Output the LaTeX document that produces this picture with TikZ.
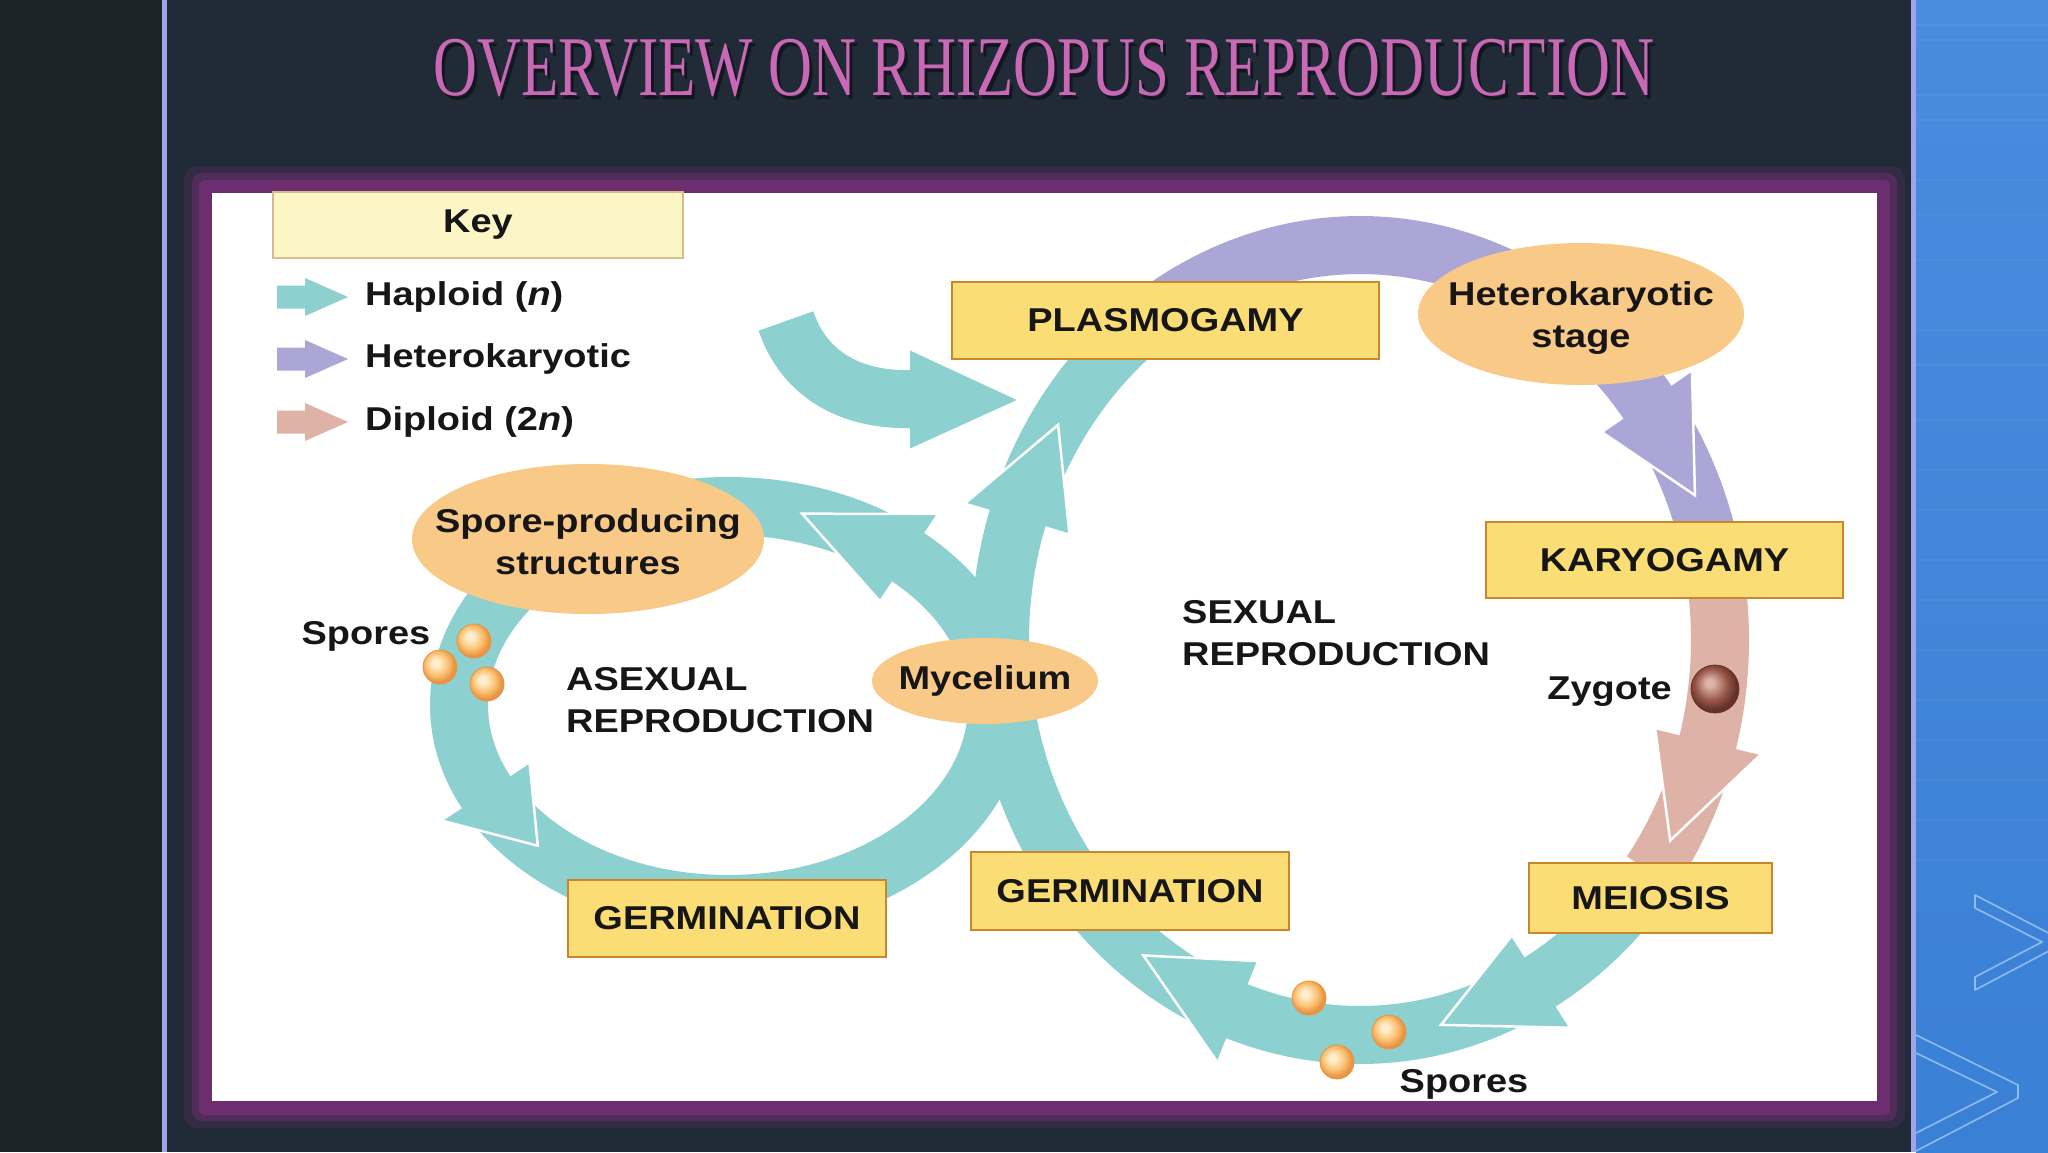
\documentclass[tikz,border=0pt]{standalone}
\usepackage{fontspec}
\setmainfont{Liberation Sans}
\newfontfamily\dfont[FakeStretch=1.15]{Liberation Sans}
\newfontfamily\tfont{Liberation Serif}
\usetikzlibrary{calc}
\definecolor{bgleft}{RGB}{27,36,38}
\definecolor{bgnavy}{RGB}{33,43,56}
\definecolor{lav}{RGB}{160,165,232}
\definecolor{bgbluetop}{RGB}{72,140,222}
\definecolor{bgbluebot}{RGB}{58,128,212}
\definecolor{chev}{RGB}{170,208,245}
\definecolor{titlepink}{RGB}{201,104,180}
\definecolor{glow}{RGB}{108,46,110}
\definecolor{hap}{RGB}{140,208,207}
\definecolor{het}{RGB}{171,166,214}
\definecolor{dip}{RGB}{222,178,166}
\definecolor{boxfill}{RGB}{251,221,118}
\definecolor{boxline}{RGB}{200,135,45}
\definecolor{ovalfill}{RGB}{249,201,135}
\definecolor{keyfill}{RGB}{252,246,198}
\definecolor{keyline}{RGB}{214,188,140}
\definecolor{sporehi}{RGB}{255,238,205}
\definecolor{sporemid}{RGB}{250,192,112}
\definecolor{sporerim}{RGB}{232,148,66}
\definecolor{zyghi}{RGB}{222,180,168}
\definecolor{zygcol}{RGB}{148,84,70}
\definecolor{zygrim}{RGB}{100,50,42}
\definecolor{txt}{RGB}{22,22,22}

\pgfdeclareradialshading{sporeball}{\pgfpoint{-7bp}{7bp}}{color(0bp)=(sporehi); color(5bp)=(sporehi); color(17bp)=(sporemid); color(25bp)=(sporerim); color(50bp)=(sporerim)}
\pgfdeclareradialshading{zygball}{\pgfpoint{-6bp}{7bp}}{color(0bp)=(zyghi); color(4bp)=(zyghi); color(17bp)=(zygcol); color(25bp)=(zygrim); color(50bp)=(zygrim)}

% thick elliptical band: cx cy rx ry th1 th2 colour
\newcommand\bandarc[7]{%
  \draw[#7, line width=58pt] plot[domain=#5:#6, samples=90, smooth] ({#1+#3*cos(\x)},{#2-#4*sin(\x)});%
}
% arrow head on an ellipse: cx cy rx ry thbase thtip halfwidth colour
\newcommand\bandhead[8]{%
  \pgfmathsetmacro\hBx{#1+#3*cos(#5)}%
  \pgfmathsetmacro\hBy{#2-#4*sin(#5)}%
  \pgfmathsetmacro\hNx{cos(#5)*#4/100}%
  \pgfmathsetmacro\hNy{-sin(#5)*#3/100}%
  \pgfmathsetmacro\hNn{sqrt(\hNx*\hNx+\hNy*\hNy)}%
  \pgfmathsetmacro\hUx{#7*\hNx/\hNn}%
  \pgfmathsetmacro\hUy{#7*\hNy/\hNn}%
  \pgfmathsetmacro\hTx{#1+#3*cos(#6)}%
  \pgfmathsetmacro\hTy{#2-#4*sin(#6)}%
  \fill[#8] ({\hBx+(\hUx)},{\hBy+(\hUy)}) -- (\hTx,\hTy) -- ({\hBx-(\hUx)},{\hBy-(\hUy)}) -- cycle;
  \draw[whiteedge] ({\hBx+(\hUx)},{\hBy+(\hUy)}) -- (\hTx,\hTy) -- ({\hBx-(\hUx)},{\hBy-(\hUy)});
}
\newcommand\legarrow[2]{%
  \fill[#2] (277,#1-11.5) -- (305,#1-11.5) -- (305,#1-19) -- (348,#1) -- (305,#1+19) -- (305,#1+11.5) -- (277,#1+11.5) -- cycle;}

\tikzset{
  lbl/.style={font=\dfont\bfseries\fontsize{33}{42}\selectfont, text=txt, align=center, inner sep=0pt},
  stagebox/.style={lbl, draw=boxline, fill=boxfill, line width=2.5pt, rectangle},
  whiteedge/.style={white, line width=2.5pt, line join=miter},
  titlefont/.style={font=\tfont\fontsize{85}{90}\selectfont, anchor=base, inner sep=0pt},
  chevline/.style={chev, line width=1.6pt, opacity=0.75, line join=round},
  spore/.style={shading=sporeball, draw=sporerim, line width=0.8pt},
}

\begin{document}
\begin{tikzpicture}[x=1pt, y=-1pt]
\useasboundingbox (0,0) rectangle (2048,1152);
% ---------- slide background ----------
\fill[bgleft] (0,0) rectangle (163,1152);
\fill[lav] (162,0) rectangle (167,1152);
\fill[bgnavy] (167,0) rectangle (1911,1152);
\shade[top color=bgbluetop, bottom color=bgbluebot] (1916,0) rectangle (2048,1152);
\fill[lav] (1911,0) rectangle (1916,1152);
\begin{scope}
  \clip (1916,0) rectangle (2048,1152);
  \foreach \yy in {25,40,95,120,180,215,260,330,365,420,470,510,560,600,650,700,740,780,820,860}
    \draw[white, opacity=0.05, line width=1.2pt] (1916,\yy) -- (2048,\yy);
  \draw[chevline] (1975,895) -- (2066,942) -- (1975,990) -- (1975,977) -- (2042,942) -- (1975,908) -- cycle;
  \draw[chevline] (1916,1035) -- (2018,1085) -- (2018,1098) -- (1914,1152);
  \draw[chevline] (1916,1053) -- (1997,1092) -- (1916,1133);
\end{scope}

% ---------- title ----------
\node[titlefont, text=black, opacity=0.45] at (1047,99) {\scalebox{0.716}[1]{OVERVIEW ON RHIZOPUS REPRODUCTION}};
\node[titlefont, text=titlepink] (title) at (1044,95) {\scalebox{0.716}[1]{OVERVIEW ON RHIZOPUS REPRODUCTION}};

% ---------- panel with purple glow ----------
\fill[glow, opacity=0.25, rounded corners=14pt] (184,166) rectangle (1905,1128);
\fill[glow, opacity=0.5, rounded corners=10pt] (192,173) rectangle (1897,1121);
\fill[glow, rounded corners=6pt] (199,180) rectangle (1890,1115);
\fill[white] (212,193) rectangle (1877,1101);

% ---------- key ----------
\node[lbl, draw=keyline, fill=keyfill, line width=2pt, minimum width=410pt, minimum height=66pt] (key) at (478,225) {Key};
\legarrow{297}{hap}
\legarrow{359}{het}
\legarrow{422}{dip}
\node[lbl, anchor=west] (lhap) at (365,297) {Haploid ({\itshape n})};
\node[lbl, anchor=west] (lhet) at (365,359) {Heterokaryotic};
\node[lbl, anchor=west] (ldip) at (365,422) {Diploid (2{\itshape n})};

% ---------- bands ----------
% asexual loop
\draw[hap, line width=58pt] (728,705) ellipse [x radius=269pt, y radius=199pt];
% sexual loop
\bandarc{1360}{640}{360}{395}{118}{318}{hap}
% incoming arrow from the upper left
\draw[hap, line width=58pt] (786,321) .. controls (803,372) and (848,401) .. (912,399);
\bandarc{1360}{640}{360}{395}{125}{8}{het}
\bandarc{1360}{640}{360}{395}{12}{-36}{dip}

% ---------- arrow heads ----------
\bandhead{728}{705}{269}{199}{48}{74}{52}{hap}
\bandhead{728}{705}{269}{199}{206}{225}{52}{hap}
\bandhead{1360}{640}{360}{395}{162}{147}{54}{hap}
\fill[hap] (910,349) -- (1020,400) -- (910,450) -- cycle;
\draw[whiteedge] (910,349) -- (1020,400) -- (910,450);
\bandhead{1360}{640}{360}{395}{37}{21.5}{54}{het}
\bandhead{1360}{640}{360}{395}{-15}{-30.5}{54}{dip}
\bandhead{1360}{640}{360}{395}{-60}{-77}{54}{hap}
\bandhead{1360}{640}{360}{395}{-110}{-127}{54}{hap}

% ---------- ovals ----------
\fill[ovalfill] (1581,314) ellipse [x radius=163pt, y radius=71pt];
\node[lbl] (hetstage) at (1581,318) {Heterokaryotic\\stage};
\fill[ovalfill] (588,539) ellipse [x radius=176pt, y radius=75pt];
\node[lbl] (sporeprod) at (588,542) {Spore-producing\\structures};
\fill[ovalfill] (985,681) ellipse [x radius=113pt, y radius=43pt];
\node[lbl] (mycel) at (985,681) {Mycelium};

% ---------- stage boxes ----------
\node[stagebox, minimum width=427pt, minimum height=77pt] (plasmo) at (1165.5,320.5) {PLASMOGAMY};
\node[stagebox, minimum width=357pt, minimum height=76pt] (karyo) at (1664.5,560) {KARYOGAMY};
\node[stagebox, minimum width=243pt, minimum height=70pt] (meio) at (1650.5,898) {MEIOSIS};
\node[stagebox, minimum width=318pt, minimum height=78pt] (germR) at (1130,891) {GERMINATION};
\node[stagebox, minimum width=318pt, minimum height=77pt] (germL) at (727,918.5) {GERMINATION};

% ---------- spores and zygote ----------
\shade[spore] (474,641) circle [radius=17pt];
\shade[spore] (440,667) circle [radius=17pt];
\shade[spore] (487,684) circle [radius=17pt];
\shade[spore] (1309,998) circle [radius=17pt];
\shade[spore] (1389,1032) circle [radius=17pt];
\shade[spore] (1337,1062) circle [radius=17pt];
\shade[shading=zygball, draw=zygrim, line width=0.8pt] (1715,689) circle [radius=24pt];

% ---------- labels ----------
\node[lbl] (sporesL) at (366,636) {Spores};
\node[lbl] (sporesB) at (1464,1084) {Spores};
\node[lbl, anchor=east] (zyg) at (1672,692) {Zygote};
\node[lbl, anchor=west, align=left] (asex) at (566,700) {ASEXUAL\\REPRODUCTION};
\node[lbl, anchor=west, align=left] (sex) at (1182,633) {SEXUAL\\REPRODUCTION};
\end{tikzpicture}
\end{document}
